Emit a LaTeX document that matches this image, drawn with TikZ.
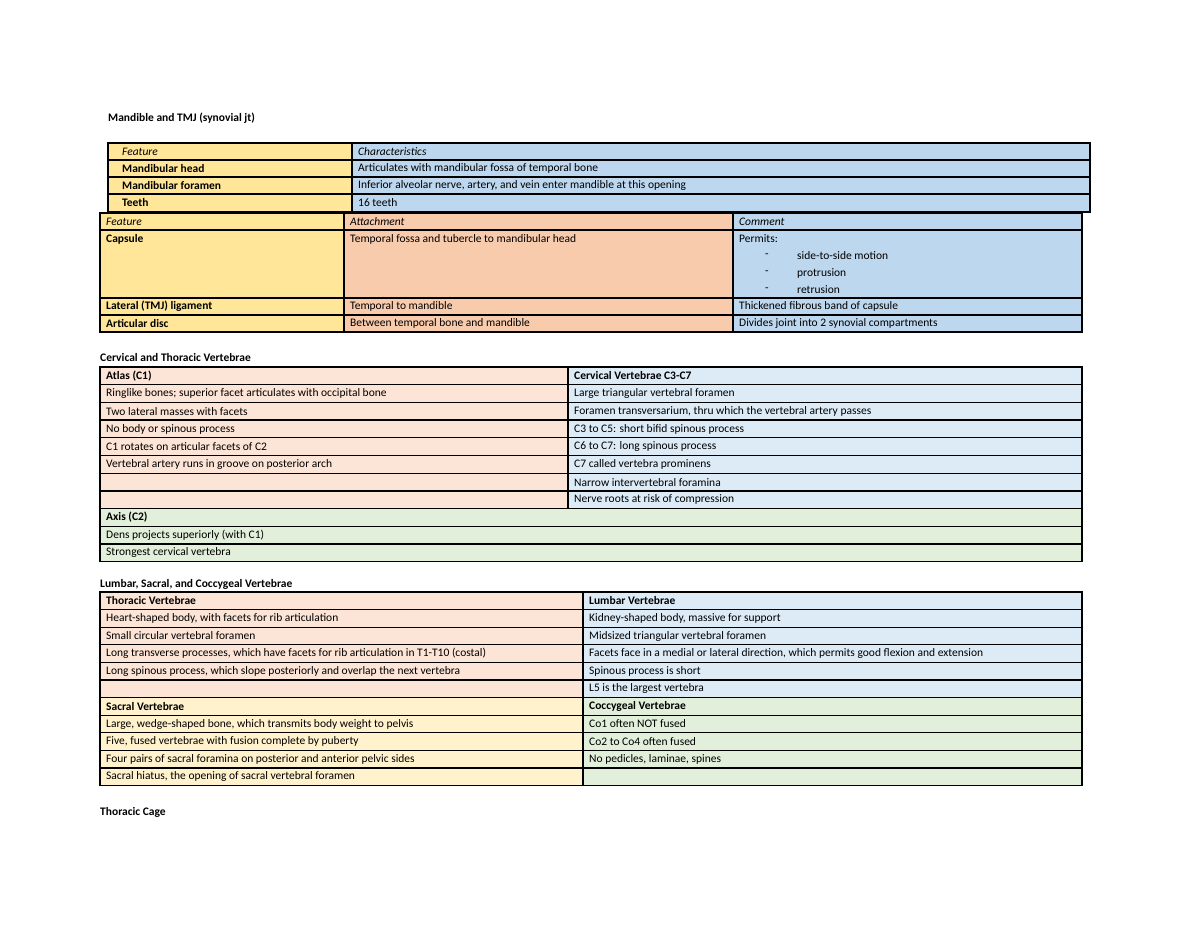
\documentclass[tikz,border=0pt]{standalone}
\usepackage{fontspec}
\setmainfont{Carlito}
\definecolor{yel}{HTML}{FFE699}
\definecolor{blu}{HTML}{BDD7EE}
\definecolor{sal}{HTML}{F8CBAD}
\definecolor{lsal}{HTML}{FCE4D6}
\definecolor{lblu}{HTML}{DDEBF7}
\definecolor{lgrn}{HTML}{E2EFDA}
\definecolor{lyel}{HTML}{FFF2CC}
\tikzset{cellbox/.style={draw=black,line width=1.3pt},
 celltxt/.style={anchor=west,inner sep=0pt,font=\fontsize{11.5}{13}\selectfont},
 ttl/.style={anchor=west,inner sep=0pt,font=\fontsize{11.5}{13}\selectfont\bfseries}}
% \cellc{name}{x1}{y1}{x2}{y2}{fill}{text}
\newcommand{\cellc}[7]{%
 \path[cellbox,fill=#6] (#2,#3) rectangle (#4,#5);
 \node[celltxt] (#1) at (#2+6,{(#3+#5)/2}) {#7};}
\begin{document}
\begin{tikzpicture}[x=1pt,y=-1pt]
\useasboundingbox[fill=white] (0,0) rectangle (1200,927);
\node[ttl] (t1) at (108,118) {Mandible and TMJ (synovial jt)};
% table 1
\cellc{a1}{108}{143}{352}{160}{yel}{\hspace{8pt}\itshape Feature}
\cellc{a2}{352}{143}{1090}{160}{blu}{\itshape Characteristics}
\cellc{a3}{108}{160}{352}{177}{yel}{\hspace{8pt}\bfseries Mandibular head}
\cellc{a4}{352}{160}{1090}{177}{blu}{Articulates with mandibular fossa of temporal bone}
\cellc{a5}{108}{177}{352}{194}{yel}{\hspace{8pt}\bfseries Mandibular foramen}
\cellc{a6}{352}{177}{1090}{194}{blu}{Inferior alveolar nerve, artery, and vein enter mandible at this opening}
\cellc{a7}{108}{194}{352}{212}{yel}{\hspace{8pt}\bfseries Teeth}
\cellc{a8}{352}{194}{1090}{212}{blu}{16 teeth}
% table 2
\cellc{b1}{100}{213}{344}{230}{yel}{\itshape Feature}
\cellc{b2}{344}{213}{733}{230}{sal}{\itshape Attachment}
\cellc{b3}{733}{213}{1082}{230}{blu}{\itshape Comment}
\path[cellbox,fill=yel] (100,230) rectangle (344,298);
\path[cellbox,fill=sal] (344,230) rectangle (733,298);
\path[cellbox,fill=blu] (733,230) rectangle (1082,298);
\node[celltxt] (b4) at (106,239) {\bfseries Capsule};
\node[celltxt] (b5) at (350,239) {Temporal fossa and tubercle to mandibular head};
\node[celltxt] (b6) at (739,239) {Permits:};
\node[celltxt] (b7) at (765,256) {-};
\node[celltxt] (b8) at (797,256) {side-to-side motion};
\node[celltxt] (b9) at (765,273) {-};
\node[celltxt] (b10) at (797,273) {protrusion};
\node[celltxt] (b11) at (765,290) {-};
\node[celltxt] (b12) at (797,290) {retrusion};
\cellc{b13}{100}{298}{344}{315}{yel}{\bfseries Lateral (TMJ) ligament}
\cellc{b14}{344}{298}{733}{315}{sal}{Temporal to mandible}
\cellc{b15}{733}{298}{1082}{315}{blu}{Thickened fibrous band of capsule}
\cellc{b16}{100}{315}{344}{332}{yel}{\bfseries Articular disc}
\cellc{b17}{344}{315}{733}{332}{sal}{Between temporal bone and mandible}
\cellc{b18}{733}{315}{1082}{332}{blu}{Divides joint into 2 synovial compartments}
% table 3
\node[ttl] (t2) at (100,358) {Cervical and Thoracic Vertebrae};
\foreach \i/\l/\r [count=\k from 0] in {%
 {\bfseries Atlas (C1)}/{\bfseries Cervical Vertebrae C3-C7},
 {Ringlike bones; superior facet articulates with occipital bone}/{Large triangular vertebral foramen},
 {Two lateral masses with facets}/{Foramen transversarium, thru which the vertebral artery passes},
 {No body or spinous process}/{C3 to C5: short bifid spinous process},
 {C1 rotates on articular facets of C2}/{C6 to C7: long spinous process},
 {Vertebral artery runs in groove on posterior arch}/{C7 called vertebra prominens},
 {}/{Narrow intervertebral foramina},
 {}/{Nerve roots at risk of compression}}{
 \cellc{cl\k}{100}{367+17.7*\k}{568}{367+17.7*\k+17.7}{lsal}{\i}
 \cellc{cr\k}{568}{367+17.7*\k}{1082}{367+17.7*\k+17.7}{lblu}{\l}
}
\foreach \i [count=\k from 8] in {{\bfseries Axis (C2)},{Dens projects superiorly (with C1)},{Strongest cervical vertebra}}{
 \cellc{cg\k}{100}{367+17.7*\k}{1082}{367+17.7*\k+17.7}{lgrn}{\i}
}
% table 4
\node[ttl] (t3) at (100,584) {Lumbar, Sacral, and Coccygeal Vertebrae};
\foreach \i/\l [count=\k from 0] in {%
 {\bfseries Thoracic Vertebrae}/{\bfseries Lumbar Vertebrae},
 {Heart-shaped body, with facets for rib articulation}/{Kidney-shaped body, massive for support},
 {Small circular vertebral foramen}/{Midsized triangular vertebral foramen},
 {Long transverse processes, which have facets for rib articulation in T1-T10 (costal)}/{Facets face in a medial or lateral direction, which permits good flexion and extension},
 {Long spinous process, which slope posteriorly and overlap the next vertebra}/{Spinous process is short},
 {}/{L5 is the largest vertebra}}{
 \cellc{dl\k}{100}{592+17.6*\k}{583}{592+17.6*\k+17.6}{lsal}{\i}
 \cellc{dr\k}{583}{592+17.6*\k}{1082}{592+17.6*\k+17.6}{lblu}{\l}
}
\foreach \i/\l [count=\k from 6] in {%
 {\bfseries Sacral Vertebrae}/{\bfseries Coccygeal Vertebrae},
 {Large, wedge-shaped bone, which transmits body weight to pelvis}/{Co1 often NOT fused},
 {Five, fused vertebrae with fusion complete by puberty}/{Co2 to Co4 often fused},
 {Four pairs of sacral foramina on posterior and anterior pelvic sides}/{No pedicles, laminae, spines},
 {Sacral hiatus, the opening of sacral vertebral foramen}/{}}{
 \cellc{el\k}{100}{592+17.6*\k}{583}{592+17.6*\k+17.6}{lyel}{\i}
 \cellc{er\k}{583}{592+17.6*\k}{1082}{592+17.6*\k+17.6}{lgrn}{\l}
}
\node[ttl] (t4) at (100,812) {Thoracic Cage};
\end{tikzpicture}
\end{document}
